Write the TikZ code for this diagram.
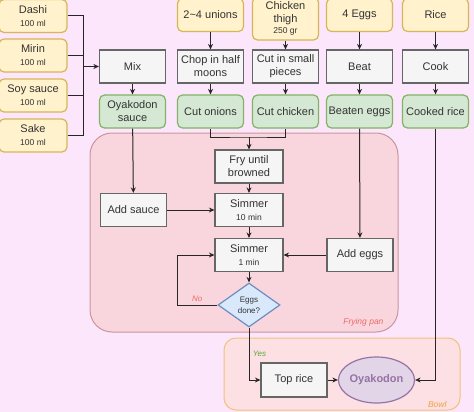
\documentclass[tikz,border=0pt]{standalone}
\usepackage{xcolor}
\usepackage{fontspec}
\setmainfont{Liberation Sans}
\usetikzlibrary{positioning,arrows.meta,shapes.geometric}

\definecolor{pagebg}{HTML}{FCE6FB}
\definecolor{ingfill}{HTML}{FFF2CC}
\definecolor{ingdraw}{HTML}{D6B656}
\definecolor{resfill}{HTML}{D5E8D4}
\definecolor{resdraw}{HTML}{82B366}
\definecolor{stepfill}{HTML}{F5F5F5}
\definecolor{stepdraw}{HTML}{666666}
\definecolor{askfill}{HTML}{DAE8FC}
\definecolor{askdraw}{HTML}{6C8EBF}
\definecolor{dishfill}{HTML}{E1D5E7}
\definecolor{dishdraw}{HTML}{9673A6}
\definecolor{panfill}{HTML}{F9D6DE}
\definecolor{pandraw}{HTML}{C9959C}
\definecolor{bowlfill}{HTML}{FCE0E4}
\definecolor{bowldraw}{HTML}{F2C27A}
\definecolor{textgray}{HTML}{333333}
\definecolor{pantext}{HTML}{EA6B66}
\definecolor{bowltext}{HTML}{F5A03C}
\definecolor{yestext}{HTML}{5BAA3A}

\newcommand{\smalltxt}[1]{{\fontsize{8.5}{10}\selectfont #1}}

\begin{document}
\begin{tikzpicture}[x=1pt, y=-1pt, >={Stealth[length=5.5pt,width=5pt]}, font=\fontsize{11}{13}\selectfont, text=textgray]
\tikzstyle{box}=[
    draw, line width=1.2pt,
    align=center, inner sep=1pt,
    minimum width=66pt,
    minimum height=33pt
]
\tikzstyle{ingredient}=[box, rounded corners=5pt, draw=ingdraw, fill=ingfill]
\tikzstyle{result}=[box, rounded corners=5pt, draw=resdraw, fill=resfill]
\tikzstyle{stepbox}=[box, draw=stepdraw, fill=stepfill]
\tikzstyle{link}=[draw=black!85, line width=1pt]

% background and zones
\fill[pagebg] (0,0) rectangle (474,412);
\useasboundingbox (0,0) rectangle (474,412);
\draw[pandraw, fill=panfill, line width=1pt, rounded corners=22pt] (90,133) rectangle (398,332);
\draw[bowldraw, fill=bowlfill, line width=1pt, rounded corners=12pt] (224,338) rectangle (460,410);
\node[anchor=east, text=pantext, font=\fontsize{8.5}{10}\selectfont\itshape] (panlbl) at (387,322) {Frying pan};
\node[anchor=east, text=bowltext, font=\fontsize{8.5}{10}\selectfont\itshape] (bowllbl) at (450,404) {Bowl};

% ingredients
\node[ingredient, minimum width=68pt] (dashi) at (33,16) {Dashi\\\smalltxt{100 ml}};
\node[ingredient, minimum width=68pt] (mirin) at (33,55.5) {Mirin\\\smalltxt{100 ml}};
\node[ingredient, minimum width=68pt] (soy) at (33,95.5) {Soy sauce\\\smalltxt{100 ml}};
\node[ingredient, minimum width=68pt] (sake) at (33,135.5) {Sake\\\smalltxt{100 ml}};
\node[ingredient] (onions) at (210.5,15) {2\textasciitilde4 unions};
\node[ingredient, minimum height=43pt] (chicken) at (285.5,18.5) {Chicken\\thigh\\[-2pt]\smalltxt{250 gr}};
\node[ingredient] (eggs) at (359.5,15) {4 Eggs};
\node[ingredient] (rice) at (435.5,15) {Rice};

% preparation
\node[stepbox] (mix) at (132.5,66.5) {Mix};
\node[stepbox] (chop) at (210.5,66.5) {Chop in half\\moons};
\node[stepbox] (cutsmall) at (285.5,66.5) {Cut in small\\pieces};
\node[stepbox] (beat) at (359.5,66.5) {Beat};
\node[stepbox] (cook) at (435.5,66.5) {Cook};

\node[result] (sauce) at (132.5,111.5) {Oyakodon\\sauce};
\node[result] (cutonions) at (210.5,111.5) {Cut onions};
\node[result] (cutchicken) at (285.5,111.5) {Cut chicken};
\node[result] (beaten) at (359.5,111.5) {Beaten eggs};
\node[result] (cookedrice) at (435.5,111.5) {Cooked rice};

% frying pan
\node[stepbox, minimum width=68pt] (fry) at (249,166.5) {Fry until\\browned};
\node[stepbox] (addsauce) at (133.5,210) {Add sauce};
\node[stepbox, minimum width=68pt] (simmerA) at (249,210) {Simmer\\\smalltxt{10 min}};
\node[stepbox, minimum width=68pt] (simmerB) at (249,255) {Simmer\\\smalltxt{1 min}};
\node[stepbox] (addeggs) at (360,255) {Add eggs};
\node[diamond, draw=askdraw, fill=askfill, line width=1.2pt, aspect=1.4,
      minimum width=62pt, minimum height=44pt, inner sep=0pt, align=center,
      font=\fontsize{8}{11}\selectfont] (done) at (249,305) {Eggs\\done?};

% bowl
\node[stepbox, minimum height=34pt] (toprice) at (294,380) {Top rice};
\node[ellipse, draw=dishdraw, fill=dishfill, line width=1.2pt, minimum width=67pt,
      minimum height=46pt, inner sep=0pt, text=dishdraw, font=\fontsize{11}{13}\selectfont\bfseries] (oyakodon) at (376.5,380) {Oyakodon};

% connectors
\coordinate (merge) at (83,66.5);
\coordinate (join) at (249,137);
\coordinate (loop) at (177,305);
\foreach \src in {dashi,mirin,soy,sake}
    \draw[link] (\src.east) -| (merge);
\draw[link,->] (merge) -- (mix);
\draw[link,->] (mix) -- (sauce);
\draw[link,->] (onions) -- (chop);
\draw[link,->] (chop) -- (cutonions);
\draw[link,->] (chicken) -- (cutsmall);
\draw[link,->] (cutsmall) -- (cutchicken);
\draw[link,->] (eggs) -- (beat);
\draw[link,->] (beat) -- (beaten);
\draw[link,->] (rice) -- (cook);
\draw[link,->] (cook) -- (cookedrice);
\draw[link] (cutonions.south) |- (join) -| (cutchicken.south);
\draw[link,->] (join) -- (fry);
\draw[link,->] (sauce) -- (addsauce);
\draw[link,->] (addsauce) -- (simmerA);
\draw[link,->] (fry) -- (simmerA);
\draw[link,->] (simmerA) -- (simmerB);
\draw[link,->] (beaten) -- (addeggs);
\draw[link,->] (addeggs) -- (simmerB);
\draw[link,->] (simmerB) -- (done);
\draw[link,->] (done.west) -- node[above, pos=0.5, text=pantext, font=\fontsize{8}{10}\selectfont\itshape] {No} (loop) |- (simmerB.west);
\draw[link,->] (done.south) |- node[pos=0.25, right, text=yestext, font=\fontsize{8}{10}\selectfont\itshape] {Yes} (toprice.west);
\draw[link,->] (toprice) -- (oyakodon);
\draw[link,->] (cookedrice.south) |- (oyakodon.east);
\end{tikzpicture}
\end{document}
